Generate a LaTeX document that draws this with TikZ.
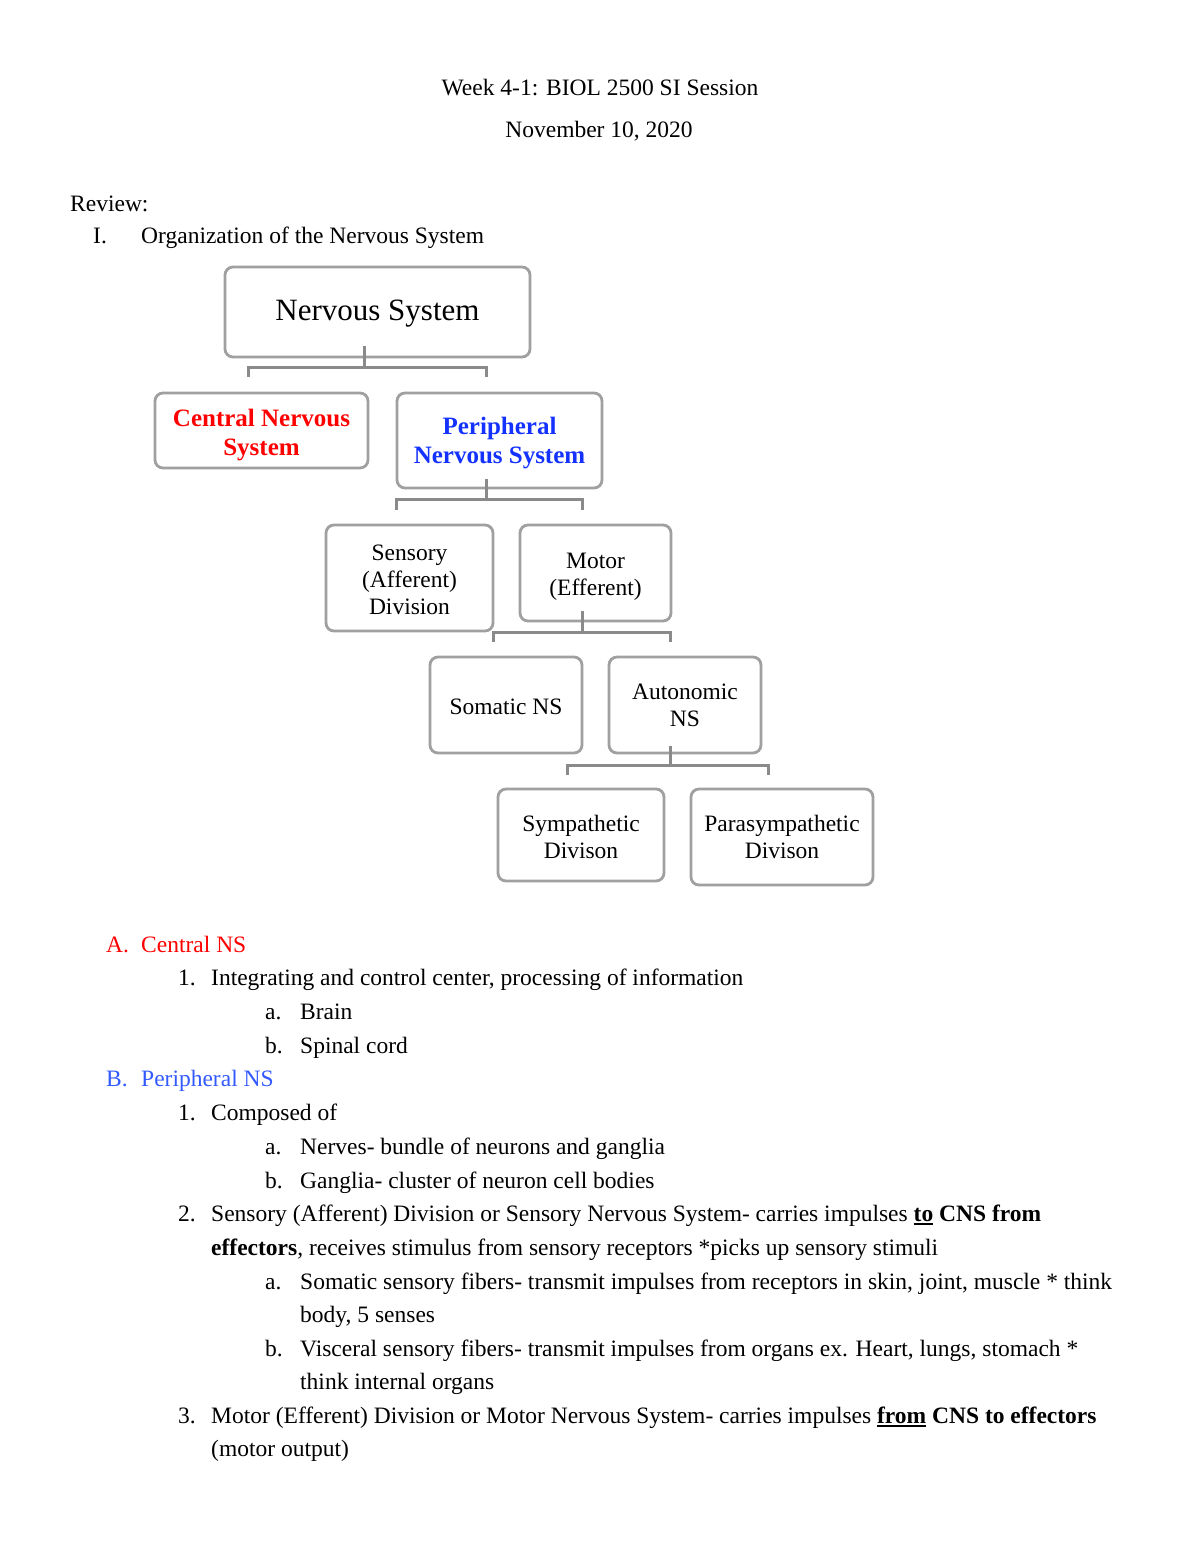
\documentclass[tikz,border=0pt]{standalone}
\usepackage{fontspec}
\setmainfont{Liberation Serif}
\definecolor{boxgray}{RGB}{160,160,160}
\definecolor{linegray}{RGB}{138,138,138}
\definecolor{cnsred}{RGB}{255,0,0}
\definecolor{pnsblue}{RGB}{20,50,255}
\definecolor{listblue}{RGB}{50,90,255}
\newsavebox\ulbox
\newcommand{\myul}[1]{\sbox\ulbox{#1}\rlap{\rule[-3.5pt]{\wd\ulbox}{2pt}}\usebox\ulbox}
\newcommand{\topstrut}[1]{\rule{0pt}{#1}}
\begin{document}
\begin{tikzpicture}[x=1pt,y=-1pt,
  box/.style={draw=boxgray, line width=2.8pt, rounded corners=8pt, align=center,
    inner sep=0pt, font=\fontsize{23.5}{27}\selectfont},
  conn/.style={draw=linegray, line width=3pt},
  txt/.style={anchor=base west, inner sep=0pt, font=\fontsize{23.5}{28}\selectfont}]
\useasboundingbox (0,0) rectangle (1200,1553);

% ---- boxes
\node[box, minimum width=305pt, minimum height=90pt, font=\fontsize{31}{34}\selectfont] (ns) at (377.5,312) {\topstrut{24.5pt}Nervous System};
\node[box, minimum width=213pt, minimum height=75pt, text=cnsred, font=\fontsize{25}{29}\selectfont\bfseries] (cns) at (261.5,430.5) {\topstrut{27pt}Central Nervous\\System};
\node[box, minimum width=205pt, minimum height=95pt, text=pnsblue, font=\fontsize{25}{29}\selectfont\bfseries] (pns) at (499.5,440.5) {\topstrut{23pt}Peripheral\\Nervous System};
\node[box, minimum width=167pt, minimum height=106pt] (sens) at (409.5,578) {\topstrut{20pt}Sensory\\(Afferent)\\Division};
\node[box, minimum width=151pt, minimum height=96pt] (mot) at (595.5,573) {\topstrut{23.6pt}Motor\\(Efferent)};
\node[box, minimum width=152pt, minimum height=96pt] (som) at (506,705) {\topstrut{20pt}Somatic NS};
\node[box, minimum width=152pt, minimum height=96pt] (aut) at (685,705) {Autonomic\\NS};
\node[box, minimum width=166pt, minimum height=92pt] (sym) at (581,835) {\topstrut{20pt}Sympathetic\\Divison};
\node[box, minimum width=182pt, minimum height=96pt] (para) at (782,837) {Parasympathetic\\Divison};

% ---- connectors
\coordinate (c1) at (364,367); \coordinate (c1l) at (248,377); \coordinate (c1r) at (486,377);
\draw[conn] ([yshift=12pt]ns.south -| c1) -- (c1);
\draw[conn] (c1l) -- (c1l |- c1) -- (c1r |- c1) -- (c1r);

\coordinate (c2) at (486,499); \coordinate (c2l) at (396,510); \coordinate (c2r) at (582,510);
\draw[conn] ([yshift=10pt]pns.south -| c2) -- (c2);
\draw[conn] (c2l) -- (c2l |- c2) -- (c2r |- c2) -- (c2r);

\coordinate (c3) at (582,632); \coordinate (c3l) at (493,642); \coordinate (c3r) at (670,642);
\draw[conn] ([yshift=11pt]mot.south -| c3) -- (c3);
\draw[conn] (c3l) -- (c3l |- c3) -- (c3r |- c3) -- (c3r);

\coordinate (c4) at (670,765); \coordinate (c4l) at (567,775); \coordinate (c4r) at (768,775);
\draw[conn] ([yshift=8pt]aut.south -| c4) -- (c4);
\draw[conn] (c4l) -- (c4l |- c4) -- (c4r |- c4) -- (c4r);

% ---- text
\node[txt, anchor=base] (t1) at (600,95) {Week 4-1: BIOL 2500 SI Session};
\node[txt, anchor=base] (t2) at (599,137) {November 10, 2020};
\node[txt] (rev) at (70,211) {Review:};
\node[txt] (n1) at (93,243) {I.};
\node[txt] (s1) at (141,243) {Organization of the Nervous System};

\node[txt, text=cnsred] (nA) at (106,952) {A.};
\node[txt, text=cnsred] (sA) at (141,952) {Central NS};
\node[txt] (nA1) at (178,985) {1.};
\node[txt] (sA1) at (211,985) {Integrating and control center, processing of information};
\node[txt] (nA1a) at (265,1019) {a.};
\node[txt] (sA1a) at (300,1019) {Brain};
\node[txt] (nA1b) at (265,1053) {b.};
\node[txt] (sA1b) at (300,1053) {Spinal cord};

\node[txt, text=listblue] (nB) at (106,1086) {B.};
\node[txt, text=listblue] (sB) at (141,1086) {Peripheral NS};
\node[txt] (nB1) at (178,1120) {1.};
\node[txt] (sB1) at (211,1120) {Composed of};
\node[txt] (nB1a) at (265,1154) {a.};
\node[txt] (sB1a) at (300,1154) {Nerves- bundle of neurons and ganglia};
\node[txt] (nB1b) at (265,1188) {b.};
\node[txt] (sB1b) at (300,1188) {Ganglia- cluster of neuron cell bodies};
\node[txt] (nB2) at (178,1221) {2.};
\node[txt] (sB2) at (211,1221) {Sensory (Afferent) Division or Sensory Nervous System- carries impulses \myul{\textbf{to}} \textbf{CNS from}};
\node[txt] (sB2c) at (211,1255) {\textbf{effectors}, receives stimulus from sensory receptors *picks up sensory stimuli};
\node[txt] (nB2a) at (265,1289) {a.};
\node[txt] (sB2a) at (300,1289) {Somatic sensory fibers- transmit impulses from receptors in skin, joint, muscle * think};
\node[txt] (sB2ac) at (300,1322) {body, 5 senses};
\node[txt] (nB2b) at (265,1356) {b.};
\node[txt] (sB2b) at (300,1356) {Visceral sensory fibers- transmit impulses from organs ex. Heart, lungs, stomach *};
\node[txt] (sB2bc) at (300,1389) {think internal organs};
\node[txt] (nB3) at (178,1423) {3.};
\node[txt] (sB3) at (211,1423) {Motor (Efferent) Division or Motor Nervous System- carries impulses \myul{\textbf{from}} \textbf{CNS to effectors}};
\node[txt] (sB3c) at (211,1456) {(motor output)};
\end{tikzpicture}
\end{document}
